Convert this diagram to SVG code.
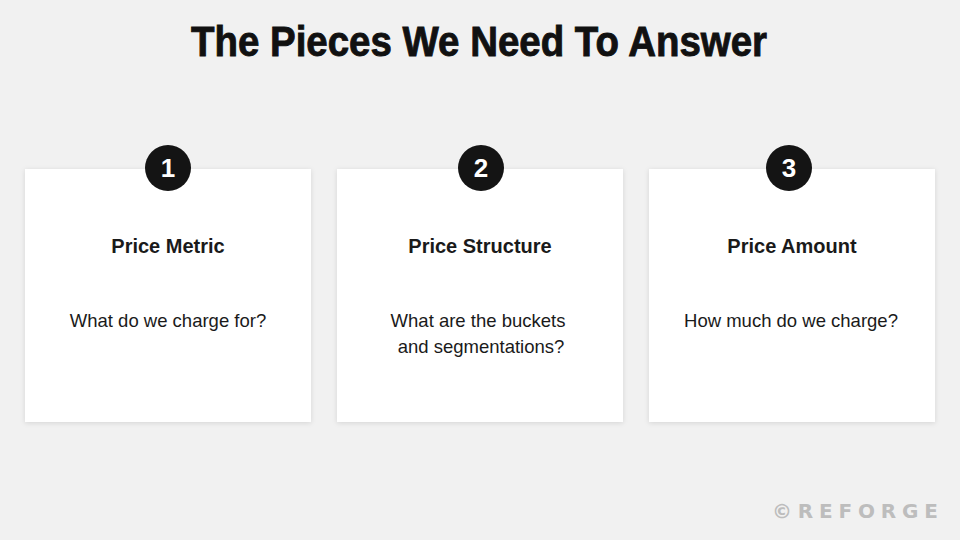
<svg xmlns="http://www.w3.org/2000/svg" width="960" height="540" viewBox="0 0 960 540">
<defs>
<style>
.card{fill:#ffffff;filter:url(#sh)}
.badge{fill:#141414}
.num{font-family:"Liberation Sans",Arial,sans-serif;font-weight:bold;font-size:26px;fill:#ffffff;text-anchor:middle}
.ttl{font-family:"Liberation Sans",Arial,sans-serif;font-weight:bold;font-size:20px;fill:#1a1a1a;text-anchor:middle}
.sub{font-family:"Liberation Sans",Arial,sans-serif;font-size:18.5px;fill:#1a1a1a;text-anchor:middle}
</style>
<filter id="sh" x="-10%" y="-10%" width="120%" height="120%">
<feDropShadow dx="0" dy="1" stdDeviation="2.5" flood-color="#000" flood-opacity="0.12"/>
</filter>
</defs>
<rect width="960" height="540" fill="#f1f1f1"/>
<text x="479" y="55.5" font-family="'Liberation Sans',Arial,sans-serif" font-weight="bold" font-size="42" fill="#111" stroke="#111" stroke-width="0.9" text-anchor="middle" textLength="576" lengthAdjust="spacingAndGlyphs">The Pieces We Need To Answer</text>
<g id="node1">
<rect class="card" x="25" y="169" width="286" height="253"/>
<circle class="badge" cx="168" cy="168" r="23"/>
<text class="num" x="168" y="177">1</text>
<text class="ttl" x="168" y="253">Price Metric</text>
<text class="sub" x="168" y="327">What do we charge for?</text>
</g>
<g id="node2">
<rect class="card" x="337" y="169" width="286" height="253"/>
<circle class="badge" cx="481" cy="168" r="23"/>
<text class="num" x="481" y="177">2</text>
<text class="ttl" x="480" y="253">Price Structure</text>
<text class="sub" x="478" y="327">What are the buckets</text>
<text class="sub" x="481" y="353">and segmentations?</text>
</g>
<g id="node3">
<rect class="card" x="649" y="169" width="286" height="253"/>
<circle class="badge" cx="789" cy="168" r="23"/>
<text class="num" x="789" y="177">3</text>
<text class="ttl" x="792" y="253">Price Amount</text>
<text class="sub" x="791" y="327">How much do we charge?</text>
</g>
<g id="connectors"/>
<text x="772" y="518" font-family="'DejaVu Sans',sans-serif" font-weight="bold" font-size="20" fill="#bdbdbd" textLength="166" lengthAdjust="spacing">©REFORGE</text>
</svg>
